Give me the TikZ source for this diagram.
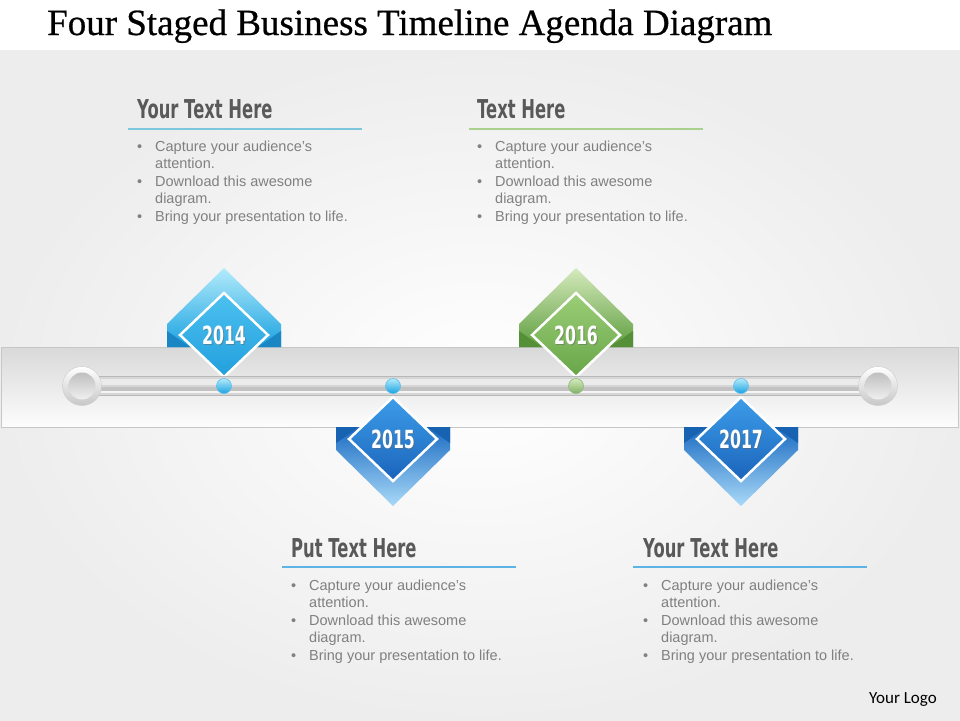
\documentclass[tikz,border=0pt]{standalone}
\usepackage{fontspec}
\setmainfont{Liberation Sans}
\newfontfamily\titlefont{Liberation Serif}[FakeBold=0.6]
\newfontfamily\headfont{DejaVu Sans}[FakeStretch=0.63]
\newfontfamily\logofont{Carlito}

\definecolor{headgrey}{HTML}{595959}
\definecolor{textgrey}{HTML}{808080}
\definecolor{lineblue}{HTML}{7CC6DE}
\definecolor{linegreen}{HTML}{A9D18E}
\definecolor{linedeep}{HTML}{5DB3E4}
% 2014: cyan, 2015/2017: blue, 2016: green
\definecolor{cyantop}{HTML}{B3EBFB}
\definecolor{cyanbot}{HTML}{1AA2E1}
\definecolor{cyandark}{HTML}{1A86C4}
\definecolor{cyanitop}{HTML}{4DC1F0}
\definecolor{cyanibot}{HTML}{229FDC}
\definecolor{bluetop}{HTML}{1B6CC2}
\definecolor{bluebot}{HTML}{A9D9F8}
\definecolor{bluedark}{HTML}{1862B2}
\definecolor{blueitop}{HTML}{3D9DE9}
\definecolor{blueibot}{HTML}{1A64BB}
\definecolor{greentop}{HTML}{D5EABD}
\definecolor{greenbot}{HTML}{5F9E3F}
\definecolor{greendark}{HTML}{558F37}
\definecolor{greenitop}{HTML}{9CCE77}
\definecolor{greenibot}{HTML}{67A548}

\newcommand{\agendatext}{%
  \begin{tabular}{@{}l@{}l@{}}
    \makebox[18pt][l]{\textbullet} & Capture your audience’s\\
                                   & attention.\\
    \makebox[18pt][l]{\textbullet} & Download this awesome\\
                                   & diagram.\\
    \makebox[18pt][l]{\textbullet} & Bring your presentation to life.
  \end{tabular}}

\begin{document}
\begin{tikzpicture}[x=1pt,y=-1pt,
  head/.style={anchor=base west,inner sep=0pt,text=headgrey,
    font=\headfont\bfseries\fontsize{26}{30}\selectfont},
  bullets/.style={anchor=north west,inner sep=0pt,text=textgrey,
    font=\fontsize{14.5}{17.5}\selectfont},
  year/.style={inner sep=0pt,text=white,
    font=\headfont\bfseries\fontsize{25}{25}\selectfont},
  dot/.style={draw=#1!70!white,line width=0.6pt}]
  \useasboundingbox (0,0) rectangle (960,720);
  % background
  \fill[white] (0,0) rectangle (960,50);
  \shade[inner color=white,outer color=black!7] (0,50) rectangle (960,720);
  \node[anchor=base west,inner sep=0pt,font=\titlefont\fontsize{37}{40}\selectfont]
    (title) at (47,35) {Four Staged Business Timeline Agenda Diagram};

  % timeline bar
  \shade[top color=black!15,bottom color=black!1] (1,347) rectangle (958,427);
  \draw[black!22] (1,347) rectangle (958,427);

  % stage markers
  \foreach \cx/\cy/\s/\ctop/\cbot/\cdark/\itop/\ibot/\yr in {
      224/335/1/cyantop/cyanbot/cyandark/cyanitop/cyanibot/2014,
      393/439/-1/bluetop/bluebot/bluedark/blueitop/blueibot/2015,
      576/335/1/greentop/greenbot/greendark/greenitop/greenibot/2016,
      741/439/-1/bluetop/bluebot/bluedark/blueitop/blueibot/2017}{
    \shade[top color=\ctop,bottom color=\cbot]
      (\cx,{\cy-67*\s}) -- ({\cx+57},{\cy-11*\s}) -- ({\cx+57},{\cy+12*\s})
      -- ({\cx-57},{\cy+12*\s}) -- ({\cx-57},{\cy-11*\s}) -- cycle;
    \fill[\cdark] ({\cx-57},{\cy+12*\s}) -- ({\cx-57},{\cy-4*\s}) -- ({\cx-34},{\cy+12*\s}) -- cycle;
    \fill[\cdark] ({\cx+57},{\cy+12*\s}) -- ({\cx+57},{\cy-4*\s}) -- ({\cx+34},{\cy+12*\s}) -- cycle;
    \shade[top color=\itop,bottom color=\ibot,draw=white,line width=2.5pt]
      (\cx,{\cy-42}) -- ({\cx+44},\cy) -- (\cx,{\cy+42}) -- ({\cx-44},\cy) -- cycle;
    \node[year,text=black!60,opacity=0.5] (s\yr) at ({\cx+1},{\cy+1.5}) {\yr};
    \node[year] (y\yr) at (\cx,\cy) {\yr};
  }

  % track
  \fill[black!16] (82,376) rectangle (878,396);
  \fill[black!8] (82,379) rectangle (878,385);
  \fill[black!24] (82,387) rectangle (878,391);
  \fill[black!4] (82,391) rectangle (878,393);
  \draw[black!28] (82,376.5) -- (878,376.5);
  \draw[black!28] (82,395.5) -- (878,395.5);
  \foreach \ex in {82,878}{
    \shade[top color=white,bottom color=black!22,draw=black!20] (\ex,386) circle (19.5);
    \shade[top color=black!25,bottom color=black!6] (\ex,386) circle (13.5);
  }
  \shade[top color=cyantop,bottom color=cyanbot,dot=cyanbot] (224,386) circle (7.5);
  \shade[top color=cyantop,bottom color=cyanbot,dot=cyanbot] (393,386) circle (7.5);
  \shade[top color=greentop,bottom color=greenbot!80!white,dot=greenbot] (576,386) circle (7.5);
  \shade[top color=cyantop,bottom color=cyanbot,dot=cyanbot] (741,386) circle (7.5);

  % text blocks
  \node[head] (h1) at (137,118) {Your Text Here};
  \draw[lineblue,line width=2pt] (128,129) -- (362,129);
  \node[bullets] (t1) at (137,139) {\agendatext};

  \node[head] (h2) at (477,118) {Text Here};
  \draw[linegreen,line width=2pt] (469,129) -- (703,129);
  \node[bullets] (t2) at (477,139) {\agendatext};

  \node[head] (h3) at (291,557) {Put Text Here};
  \draw[linedeep,line width=2pt] (282,567) -- (516,567);
  \node[bullets] (t3) at (291,578) {\agendatext};

  \node[head] (h4) at (643,557) {Your Text Here};
  \draw[linedeep,line width=2pt] (633,567) -- (867,567);
  \node[bullets] (t4) at (643,578) {\agendatext};

  \node[inner sep=0pt,font=\logofont\fontsize{17}{19}\selectfont] (logo) at (903,699) {Your Logo};
\end{tikzpicture}
\end{document}
